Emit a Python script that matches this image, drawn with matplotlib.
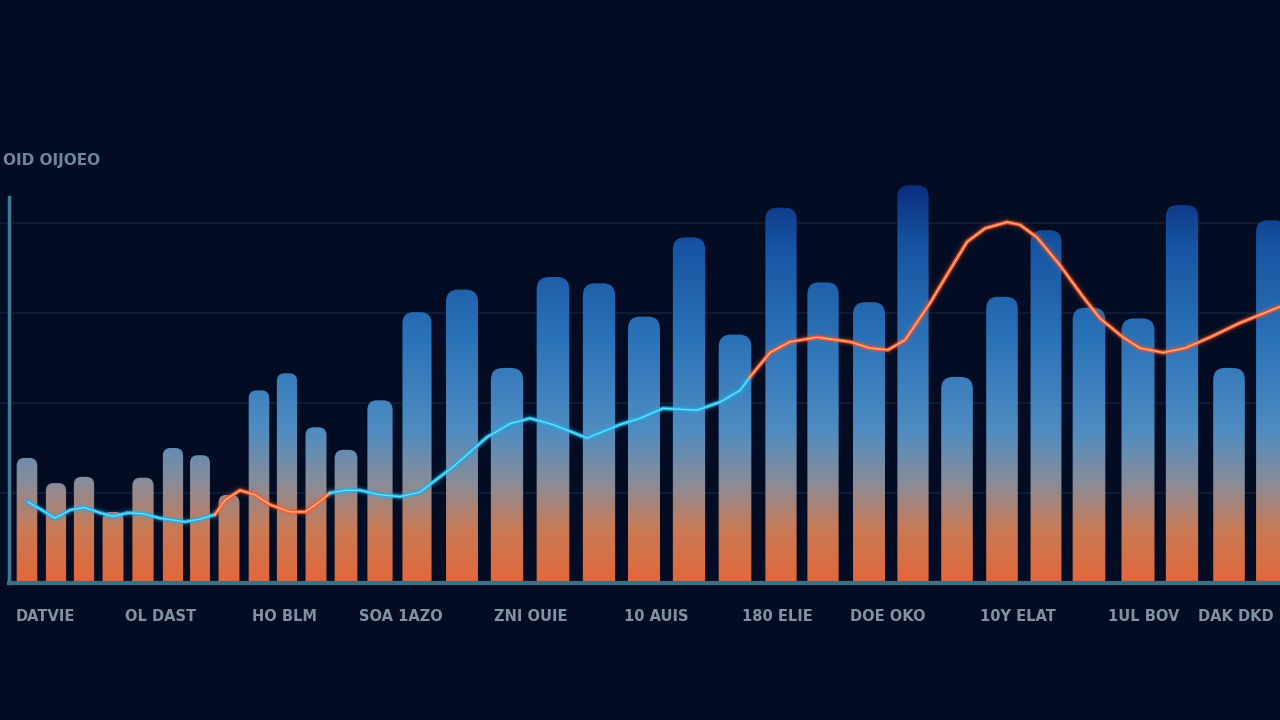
import numpy as np
import matplotlib
matplotlib.use("Agg")
import matplotlib.pyplot as plt
from matplotlib.patches import FancyBboxPatch
from matplotlib.colors import LinearSegmentedColormap

# --- data ---
bar_x = [2.7, 5.6, 8.4, 11.3, 14.3, 17.3, 20.0, 22.9, 25.9, 28.7, 31.6,
         34.6, 38.0, 41.7, 46.2, 50.7, 55.3, 59.9, 64.4, 68.9, 73.5, 78.1,
         82.3, 86.9, 91.3, 95.7, 100.2, 104.6, 108.9, 113.8, 118.2, 122.9, 127.1]
bar_h = [13.9, 11.1, 11.8, 7.9, 11.7, 15.0, 14.2, 9.8, 21.4, 23.3, 17.3,
         14.8, 20.3, 30.1, 32.6, 23.9, 34.0, 33.3, 29.6, 38.4, 27.6, 41.7,
         33.4, 31.2, 44.2, 22.9, 31.8, 39.2, 30.6, 29.4, 42.0, 23.9, 40.3]

trend_x = [2.8, 4.2, 5.5, 7.0, 8.4, 10.0, 11.3, 12.8, 14.3, 16.0, 18.5, 20.0,
           21.5, 22.5, 24.0, 25.5, 27.0, 29.0, 30.5, 31.8, 33.0,
           34.5, 36.0, 38.0, 40.0, 42.0, 45.3, 48.7, 51.0, 53.0, 55.3, 58.7,
           62.0, 64.0, 66.3, 69.7, 72.0, 74.0, 75.0,
           77.0, 79.0, 81.7, 85.0, 87.0, 88.8, 90.5, 93.0, 95.0, 96.7, 98.5,
           100.7, 102.0, 103.7, 106.0, 108.3, 110.0, 112.3, 114.0, 116.3,
           118.5, 121.0, 124.0, 128.0]
trend_y = [9.0, 8.1, 7.2, 8.1, 8.4, 7.8, 7.4, 7.8, 7.7, 7.2, 6.8, 7.1,
           7.6, 9.2, 10.3, 9.8, 8.7, 7.9, 7.9, 8.9, 10.0,
           10.3, 10.3, 9.8, 9.6, 10.1, 12.9, 16.2, 17.7, 18.3, 17.6, 16.1,
           17.6, 18.3, 19.4, 19.2, 20.1, 21.4, 22.9,
           25.6, 26.8, 27.3, 26.8, 26.1, 25.9, 27.0, 31.1, 34.8, 37.9, 39.4,
           40.1, 39.8, 38.4, 35.3, 31.8, 29.4, 27.3, 26.1, 25.6,
           26.1, 27.3, 28.9, 30.7]
hot_spans = [(21.5, 33.0), (75.0, 128.0)]

tick_pos = [4.5, 16.1, 28.5, 40.1, 53.1, 65.6, 77.7, 88.8, 101.8, 114.4, 123.6]
tick_labels = ["DATVIE", "OL DAST", "HO BLM", "SOA 1AZO", "ZNI OUIE",
               "10 AUIS", "180 ELIE", "DOE OKO", "10Y ELAT", "1UL BOV", "DAK DKD"]
title = "OID OIJOEO"

bg = "#030c22"

fig = plt.figure(figsize=(12.8, 7.2), dpi=100, facecolor=bg)
ax = fig.add_axes([0, 137 / 720, 1, 583 / 720])
ax.set_facecolor(bg)
ax.set_xlim(0, 128)
ax.set_ylim(0, 583 / 9)

# gradient used to fill every bar (absolute height based)
cmap = LinearSegmentedColormap.from_list("barfade", [
    (0.00, "#e2673a"), (0.09, "#c97a55"), (0.17, "#8a8c98"),
    (0.26, "#4f8dc2"), (0.42, "#2a72b8"), (0.58, "#1754a2"),
    (0.68, "#0b2f80"), (1.00, "#061c5a")])
grad = np.linspace(0, 1, 512).reshape(-1, 1)
ymax = 583 / 9

xs = np.array(bar_x)
widths = 0.71 * np.gradient(xs)
for x, h, w in zip(bar_x, bar_h, widths):
    patch = FancyBboxPatch((x - w / 2, -3), w, h + 3,
                           boxstyle=f"round,pad=0,rounding_size={w * 0.38}",
                           mutation_aspect=10 / 9,
                           facecolor="none", edgecolor="none", zorder=2)
    ax.add_patch(patch)
    im = ax.imshow(grad, extent=(0, 128, 0, ymax), origin="lower",
                   aspect="auto", cmap=cmap, zorder=2, interpolation="bilinear")
    im.set_clip_path(patch)

# trend line, cyan with orange highlighted spans
tx = np.array(trend_x)
ty = np.array(trend_y)
cuts = sorted({tx[0], tx[-1], *[v for s in hot_spans for v in s]})
for a, b in zip(cuts[:-1], cuts[1:]):
    m = (tx >= a) & (tx <= b)
    hot = any(a >= s0 and b <= s1 for s0, s1 in hot_spans)
    outer, core = ("#ff5a28", "#ffc3a0") if hot else ("#1fb2ea", "#7fe4ff")
    for lw, al in [(8, 0.07), (5, 0.15), (2.8, 0.9)]:
        ax.plot(tx[m], ty[m], color=outer, lw=lw, alpha=al,
                solid_capstyle="round", solid_joinstyle="round", zorder=4)
    ax.plot(tx[m], ty[m], color=core, lw=0.9, alpha=0.9,
            solid_joinstyle="round", zorder=5)

# axes styling
for s in ["top", "right"]:
    ax.spines[s].set_visible(False)
ax.spines["left"].set_position(("data", 0.9))
ax.spines["left"].set_bounds(0, 42.9)
ax.spines["left"].set_color("#3a7c94")
ax.spines["left"].set_linewidth(2.5)
ax.spines["bottom"].set_bounds(0.9, 128)
ax.spines["bottom"].set_color("#3f6f86")
ax.spines["bottom"].set_linewidth(3)
ax.spines["bottom"].set_zorder(6)

ax.set_yticks([10, 20, 30, 40])
ax.yaxis.grid(True, color="#0f1d36", lw=1.2)
ax.set_axisbelow(True)
ax.tick_params(axis="y", length=0, labelleft=False)
ax.set_xticks(tick_pos, tick_labels)
ax.tick_params(axis="x", length=0, pad=19, labelsize=10.5, labelcolor="#7f92a4")
for t in ax.get_xticklabels():
    t.set_fontweight("bold")

fig.text(0.002, 1 - 160 / 720, title, color="#70869a", fontsize=11,
         fontweight="bold", ha="left", va="center")

fig.savefig("out.png", dpi=100, facecolor=bg)
